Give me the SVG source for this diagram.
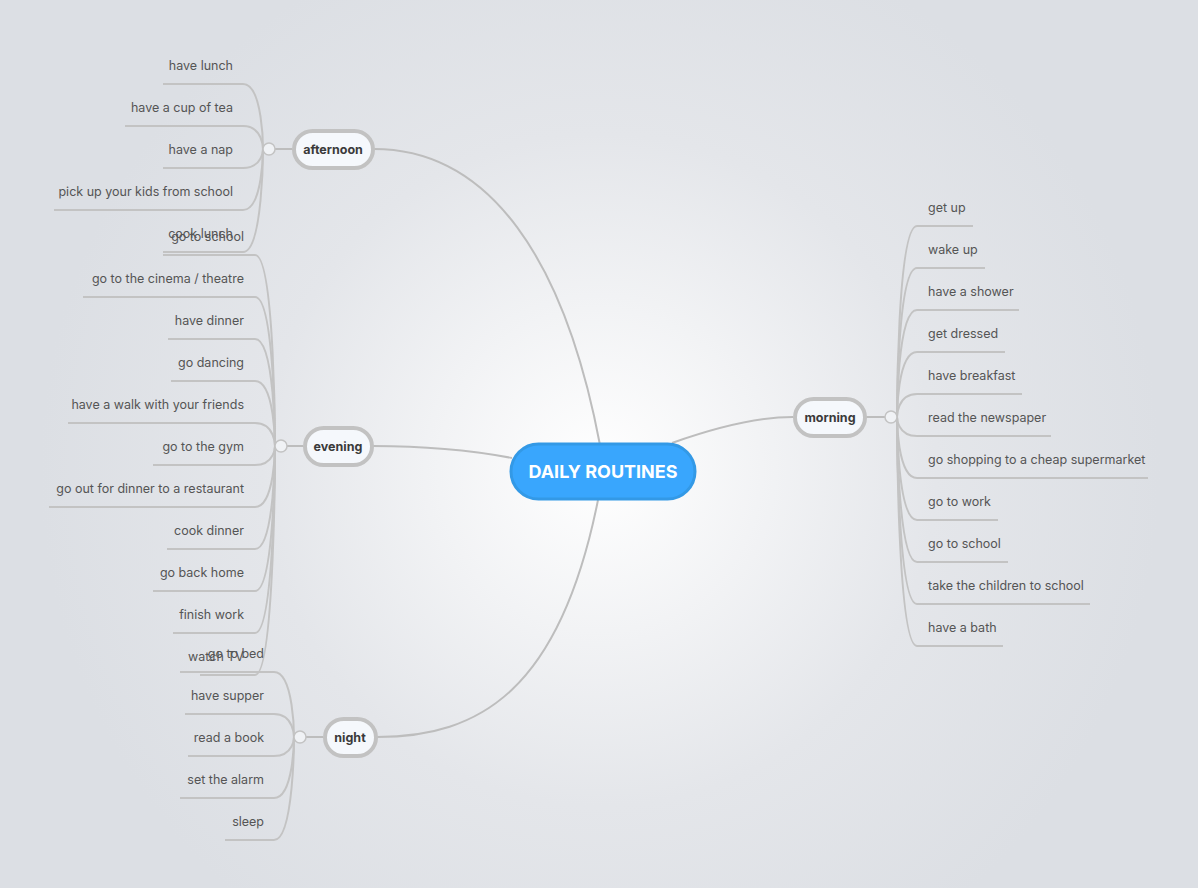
<svg xmlns="http://www.w3.org/2000/svg" width="1198" height="888" viewBox="0 0 1198 888">
<defs>
<radialGradient id="bg" cx="600" cy="470" r="560" gradientUnits="userSpaceOnUse"><stop offset="0" stop-color="#ffffff"/><stop offset="0.6" stop-color="#e4e6ea"/><stop offset="1" stop-color="#dcdfe4"/></radialGradient>
<style>
.c{fill:none;stroke:#bdbdbd;stroke-width:2}
.l{fill:none;stroke:#c3c3c3;stroke-width:2}
.t{font-family:Inter,"Liberation Sans",sans-serif;font-size:12.5px;fill:#555}
.r{text-anchor:end}
.b rect{fill:#f5f8fc;stroke:#c2c2c2;stroke-width:4}
.b text{font-family:Inter,"Liberation Sans",sans-serif;font-size:12.5px;font-weight:bold;fill:#3a3a3a;text-anchor:middle}
.j{fill:#f0f2f5;stroke:#c3c3c3;stroke-width:1.5}
</style>
</defs>
<rect width="1198" height="888" fill="url(#bg)"/>
<g id="connectors">
<path class="c" d="M600,445 C565,260 490,149 374,149"/>
<path class="c" d="M512,458 C470,450 420,446 373,446"/>
<path class="c" d="M598,500 C560,690 480,737 377,737"/>
<path class="c" d="M672,443 C720,426 760,417 793,417"/>
<path class="c" d="M292,149 H275 M303,446 H287 M323,737 H306 M866,417 H885"/>
<g class="l">
<path d="M263,149 C263,149 263,84 243,84 H163"/>
<path d="M263,149 C263,149 263,126 243,126 H125"/>
<path d="M263,149 C263,149 263,168 243,168 H163"/>
<path d="M263,149 C263,149 263,210 243,210 H54"/>
<path d="M263,149 C263,149 263,252 243,252 H163"/>
<path d="M275,446 C275,446 275,255 255,255 H163"/>
<path d="M275,446 C275,446 275,297 255,297 H83"/>
<path d="M275,446 C275,446 275,339 255,339 H168"/>
<path d="M275,446 C275,446 275,381 255,381 H171"/>
<path d="M275,446 C275,446 275,423 255,423 H68"/>
<path d="M275,446 C275,446 275,465 255,465 H153"/>
<path d="M275,446 C275,446 275,507 255,507 H49"/>
<path d="M275,446 C275,446 275,549 255,549 H167"/>
<path d="M275,446 C275,446 275,591 255,591 H153"/>
<path d="M275,446 C275,446 275,633 255,633 H173"/>
<path d="M275,446 C275,446 275,675 255,675 H200"/>
<path d="M294,737 C294,737 294,672 274,672 H180"/>
<path d="M294,737 C294,737 294,714 274,714 H185"/>
<path d="M294,737 C294,737 294,756 274,756 H188"/>
<path d="M294,737 C294,737 294,798 274,798 H180"/>
<path d="M294,737 C294,737 294,840 274,840 H225"/>
<path d="M897,417 C897,417 897,226 917,226 H973"/>
<path d="M897,417 C897,417 897,268 917,268 H985"/>
<path d="M897,417 C897,417 897,310 917,310 H1019"/>
<path d="M897,417 C897,417 897,352 917,352 H1005"/>
<path d="M897,417 C897,417 897,394 917,394 H1022"/>
<path d="M897,417 C897,417 897,436 917,436 H1051"/>
<path d="M897,417 C897,417 897,478 917,478 H1148"/>
<path d="M897,417 C897,417 897,520 917,520 H998"/>
<path d="M897,417 C897,417 897,562 917,562 H1008"/>
<path d="M897,417 C897,417 897,604 917,604 H1090"/>
<path d="M897,417 C897,417 897,646 917,646 H1003"/>
</g>
<circle class="j" cx="269" cy="149" r="6"/>
<circle class="j" cx="281" cy="446" r="6"/>
<circle class="j" cx="300" cy="737" r="6"/>
<circle class="j" cx="891" cy="417" r="6"/>
</g>
<g id="center"><rect x="511" y="444" width="184" height="55" rx="27.5" fill="#39a6fd" stroke="#3399e6" stroke-width="3"/><text x="603" y="478" text-anchor="middle" font-family="Inter,'Liberation Sans',sans-serif" font-size="18" font-weight="bold" fill="#fff">DAILY ROUTINES</text></g>
<g id="afternoon" class="b"><rect x="294" y="131" width="79" height="37" rx="18.5"/><text x="333" y="154">afternoon</text></g>
<g id="evening" class="b"><rect x="305" y="428" width="67" height="37" rx="18.5"/><text x="338" y="451">evening</text></g>
<g id="night" class="b"><rect x="325" y="719" width="51" height="37" rx="18.5"/><text x="350" y="742">night</text></g>
<g id="morning" class="b"><rect x="795" y="399" width="70" height="37" rx="18.5"/><text x="830" y="422">morning</text></g>
<g id="leaves-afternoon" class="t r">
<text x="233" y="70">have lunch</text><text x="233" y="112">have a cup of tea</text><text x="233" y="154">have a nap</text><text x="233" y="196">pick up your kids from school</text><text x="233" y="238">cook lunch</text>
</g>
<g id="leaves-evening" class="t r">
<text x="244" y="241">go to school</text><text x="244" y="283">go to the cinema / theatre</text><text x="244" y="325">have dinner</text><text x="244" y="367">go dancing</text><text x="244" y="409">have a walk with your friends</text><text x="244" y="451">go to the gym</text><text x="244" y="493">go out for dinner to a restaurant</text><text x="244" y="535">cook dinner</text><text x="244" y="577">go back home</text><text x="244" y="619">finish work</text><text x="264" y="658">go to bed</text>
</g>
<g id="leaves-night" class="t r">
<text x="244" y="661">watch TV</text><text x="264" y="700">have supper</text><text x="264" y="742">read a book</text><text x="264" y="784">set the alarm</text><text x="264" y="826">sleep</text>
</g>
<g id="leaves-morning" class="t">
<text x="928" y="212">get up</text><text x="928" y="254">wake up</text><text x="928" y="296">have a shower</text><text x="928" y="338">get dressed</text><text x="928" y="380">have breakfast</text><text x="928" y="422">read the newspaper</text><text x="928" y="464">go shopping to a cheap supermarket</text><text x="928" y="506">go to work</text><text x="928" y="548">go to school</text><text x="928" y="590">take the children to school</text><text x="928" y="632">have a bath</text>
</g>
</svg>
